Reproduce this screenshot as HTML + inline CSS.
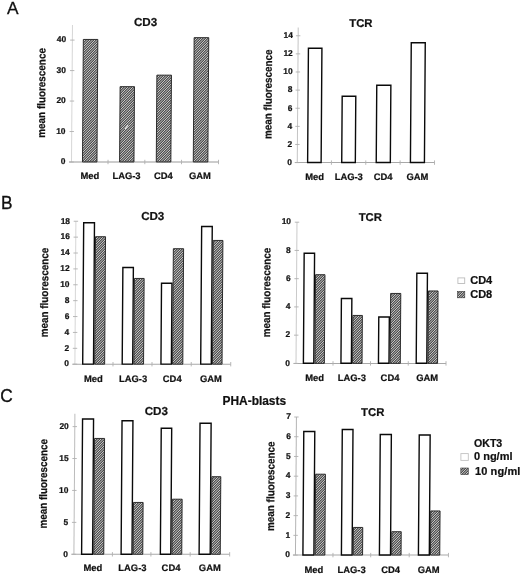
<!DOCTYPE html>
<html lang="en"><head><meta charset="utf-8"><title>Figure</title>
<style>
html,body{margin:0;padding:0;background:#fff;}
body{width:520px;height:575px;overflow:hidden;}
svg{display:block;}
text{font-family:"Liberation Sans", Arial, Helvetica, sans-serif;fill:#111;}
.tk,.xl,.yl,.tt,.lg{stroke:#111;stroke-width:0.22px;}
.b{font-weight:bold;}
.tk{font-size:8.4px;font-weight:bold;text-anchor:end;}
.xl{font-size:9.4px;font-weight:bold;text-anchor:middle;}
.yl{font-size:11px;font-weight:bold;text-anchor:middle;}
.tt{font-size:11.6px;font-weight:bold;text-anchor:middle;}
.lg{font-size:11px;font-weight:bold;}
.pn{font-size:17.3px;stroke:#111;stroke-width:0.3px;}
</style></head><body>
<svg width="520" height="575" viewBox="0 0 520 575">
<defs>
<pattern id="h" patternUnits="userSpaceOnUse" width="5" height="5">
<rect width="5" height="5" fill="#121212"/>
<path d="M-6.000 6L1.000 -1M-4.333 6L2.667 -1M-2.667 6L4.333 -1M-1.000 6L6.000 -1M0.667 6L7.667 -1M2.333 6L9.333 -1M4.000 6L11.000 -1" stroke="#ffffff" stroke-width="0.78"/>
</pattern>
</defs>
<rect width="520" height="575" fill="#fff"/>
<g>
<path d="M83.33 39.45L97.83 39.45L96.97 161.95L82.47 161.95Z" fill="url(#h)"/>
<path d="M120.1 86.65L134.5 86.65L133.97 161.95L119.57 161.95Z" fill="url(#h)"/>
<path d="M156.88 75.15L171.48 75.15L170.87 161.95L156.27 161.95Z" fill="url(#h)"/>
<path d="M194.14 37.65L208.74 37.65L207.87 161.95L193.27 161.95Z" fill="url(#h)"/>
</g>
<g transform="translate(0.65 0) skewX(-0.4)">
<path d="M72 25V162" fill="none" stroke="#d6d6d6" stroke-width="1"/>
<path d="M69.5 162H219.3" fill="none" stroke="#9a9a9a" stroke-width="1"/>
<path d="M69.8 162h4.4M69.8 131.53h4.4M69.8 101.05h4.4M69.8 70.57h4.4M69.8 40.1h4.4M108.5 159.8v4.4M145.3 159.8v4.4M182 159.8v4.4M219 159.8v4.4" fill="none" stroke="#b0b0b0" stroke-width="0.9"/>
<rect x="82.95" y="39.45" width="14.5" height="122.5" fill="none" stroke="#1c1c1c" stroke-width="0.9"/>
<rect x="120.05" y="86.65" width="14.4" height="75.3" fill="none" stroke="#1c1c1c" stroke-width="0.9"/>
<rect x="156.75" y="75.15" width="14.6" height="86.8" fill="none" stroke="#1c1c1c" stroke-width="0.9"/>
<rect x="193.75" y="37.65" width="14.6" height="124.3" fill="none" stroke="#1c1c1c" stroke-width="0.9"/>
<text class="tk" x="65.8" y="164.3">0</text>
<text class="tk" x="65.8" y="133.83">10</text>
<text class="tk" x="65.8" y="103.35">20</text>
<text class="tk" x="65.8" y="72.87">30</text>
<text class="tk" x="65.8" y="42.4">40</text>
<text class="xl" x="90.5" y="179.1">Med</text>
<text class="xl" x="127.1" y="179.1">LAG-3</text>
<text class="xl" x="164" y="179.1">CD4</text>
<text class="xl" x="200.6" y="179.1">GAM</text>
<text class="tt" x="145.13" y="26.5">CD3</text>
<text class="yl" transform="translate(45.2 92.9) rotate(-90) scale(0.9 1)">mean fluorescence</text>
</g>
<g>

</g>
<g transform="translate(0.66 0) skewX(-0.4)">
<path d="M297.75 27.5V162.6" fill="none" stroke="#c4c4c4" stroke-width="1"/>
<path d="M295.25 162.6H435" fill="none" stroke="#a8a8a8" stroke-width="1"/>
<path d="M295.55 162.6h4.4M295.55 144.48h4.4M295.55 126.36h4.4M295.55 108.24h4.4M295.55 90.11h4.4M295.55 71.99h4.4M295.55 53.87h4.4M295.55 35.75h4.4M331.9 160.4v4.4M366.25 160.4v4.4M400.6 160.4v4.4M435 160.4v4.4" fill="none" stroke="#b0b0b0" stroke-width="0.9"/>
<rect x="308.1" y="48.2" width="13.5" height="114.3" fill="#fff" stroke="#0a0a0a" stroke-width="1.4"/>
<rect x="342.2" y="96.2" width="13.6" height="66.3" fill="#fff" stroke="#0a0a0a" stroke-width="1.4"/>
<rect x="376.7" y="85.2" width="14.1" height="77.3" fill="#fff" stroke="#0a0a0a" stroke-width="1.4"/>
<rect x="410.9" y="42.7" width="14" height="119.8" fill="#fff" stroke="#0a0a0a" stroke-width="1.4"/>
<text class="tk" x="292.5" y="164.9">0</text>
<text class="tk" x="292.5" y="146.78">2</text>
<text class="tk" x="292.5" y="128.66">4</text>
<text class="tk" x="292.5" y="110.54">6</text>
<text class="tk" x="292.5" y="92.41">8</text>
<text class="tk" x="292.5" y="74.29">10</text>
<text class="tk" x="292.5" y="56.17">12</text>
<text class="tk" x="292.5" y="38.05">14</text>
<text class="xl" x="315.2" y="180.1">Med</text>
<text class="xl" x="349.35" y="180.1">LAG-3</text>
<text class="xl" x="383.8" y="180.1">CD4</text>
<text class="xl" x="418.1" y="180.1">GAM</text>
<text class="tt" style="font-size:11.3px" x="360.43" y="27.5">TCR</text>
<text class="yl" transform="translate(271.7 94.2) rotate(-90) scale(0.9 1)">mean fluorescence</text>
</g>
<g>
<path d="M95.54 236.7L105.54 236.7L104.65 364.15L94.65 364.15Z" fill="url(#h)"/>
<path d="M134.45 278.45L144.15 278.45L143.55 364.15L133.85 364.15Z" fill="url(#h)"/>
<path d="M173.36 248.7L183.61 248.7L182.8 364.15L172.55 364.15Z" fill="url(#h)"/>
<path d="M213.31 240.45L222.91 240.45L222.05 364.15L212.45 364.15Z" fill="url(#h)"/>
</g>
<g transform="translate(2.04 0) skewX(-0.4)">
<path d="M75.4 221.25V364.2" fill="none" stroke="#d6d6d6" stroke-width="1"/>
<path d="M72.9 364.2H231.25" fill="none" stroke="#a8a8a8" stroke-width="1"/>
<path d="M73.2 364.2h4.4M73.2 348.32h4.4M73.2 332.43h4.4M73.2 316.55h4.4M73.2 300.67h4.4M73.2 284.78h4.4M73.2 268.9h4.4M73.2 253.02h4.4M73.2 237.13h4.4M73.2 221.25h4.4M113.5 362v4.4M152.5 362v4.4M191.75 362v4.4M231.25 362v4.4" fill="none" stroke="#b0b0b0" stroke-width="0.9"/>
<rect x="83.2" y="222.7" width="10.8" height="141.4" fill="#fff" stroke="#0a0a0a" stroke-width="1.4"/>
<rect x="95.15" y="236.7" width="10" height="127.45" fill="none" stroke="#1c1c1c" stroke-width="0.9"/>
<rect x="122.7" y="267.45" width="10.5" height="96.65" fill="#fff" stroke="#0a0a0a" stroke-width="1.4"/>
<rect x="134.35" y="278.45" width="9.7" height="85.7" fill="none" stroke="#1c1c1c" stroke-width="0.9"/>
<rect x="161.45" y="283.2" width="10.45" height="80.9" fill="#fff" stroke="#0a0a0a" stroke-width="1.4"/>
<rect x="173.05" y="248.7" width="10.25" height="115.45" fill="none" stroke="#1c1c1c" stroke-width="0.9"/>
<rect x="201.2" y="226.45" width="10.6" height="137.65" fill="#fff" stroke="#0a0a0a" stroke-width="1.4"/>
<rect x="212.95" y="240.45" width="9.6" height="123.7" fill="none" stroke="#1c1c1c" stroke-width="0.9"/>
<text class="tk" x="69.5" y="366.5">0</text>
<text class="tk" x="69.5" y="350.62">2</text>
<text class="tk" x="69.5" y="334.73">4</text>
<text class="tk" x="69.5" y="318.85">6</text>
<text class="tk" x="69.5" y="302.97">8</text>
<text class="tk" x="69.5" y="287.08">10</text>
<text class="tk" x="69.5" y="271.2">12</text>
<text class="tk" x="69.5" y="255.32">14</text>
<text class="tk" x="69.5" y="239.43">16</text>
<text class="tk" x="69.5" y="223.55">18</text>
<text class="xl" x="94.02" y="381.6">Med</text>
<text class="xl" x="133.72" y="381.6">LAG-3</text>
<text class="xl" x="172.87" y="381.6">CD4</text>
<text class="xl" x="211.52" y="381.6">GAM</text>
<text class="tt" x="152.24" y="220">CD3</text>
<text class="yl" transform="translate(48.1 292.5) rotate(-90) scale(0.9 1)">mean fluorescence</text>
</g>
<g>
<path d="M315.58 274.7L324.98 274.7L324.36 363.35L314.96 363.35Z" fill="url(#h)"/>
<path d="M352.89 315.45L362.39 315.45L362.06 363.35L352.56 363.35Z" fill="url(#h)"/>
<path d="M390.64 293.45L400.79 293.45L400.31 363.35L390.16 363.35Z" fill="url(#h)"/>
<path d="M428.46 290.95L438.06 290.95L437.56 363.35L427.96 363.35Z" fill="url(#h)"/>
</g>
<g transform="translate(2.04 0) skewX(-0.4)">
<path d="M296.5 222V363.4" fill="none" stroke="#cacaca" stroke-width="1"/>
<path d="M294 363.4H446.6" fill="none" stroke="#a8a8a8" stroke-width="1"/>
<path d="M294.3 363.4h4.4M294.3 335.16h4.4M294.3 306.92h4.4M294.3 278.68h4.4M294.3 250.44h4.4M294.3 222.2h4.4M333.5 361.2v4.4M371 361.2v4.4M408.75 361.2v4.4M446.5 361.2v4.4" fill="none" stroke="#b0b0b0" stroke-width="0.9"/>
<rect x="303.9" y="253.2" width="10.4" height="110.1" fill="#fff" stroke="#0a0a0a" stroke-width="1.4"/>
<rect x="315.45" y="274.7" width="9.4" height="88.65" fill="none" stroke="#1c1c1c" stroke-width="0.9"/>
<rect x="341.45" y="298.45" width="10.45" height="64.85" fill="#fff" stroke="#0a0a0a" stroke-width="1.4"/>
<rect x="353.05" y="315.45" width="9.5" height="47.9" fill="none" stroke="#1c1c1c" stroke-width="0.9"/>
<rect x="378.95" y="316.95" width="10.55" height="46.35" fill="#fff" stroke="#0a0a0a" stroke-width="1.4"/>
<rect x="390.65" y="293.45" width="10.15" height="69.9" fill="none" stroke="#1c1c1c" stroke-width="0.9"/>
<rect x="416.7" y="273.2" width="10.6" height="90.1" fill="#fff" stroke="#0a0a0a" stroke-width="1.4"/>
<rect x="428.45" y="290.95" width="9.6" height="72.4" fill="none" stroke="#1c1c1c" stroke-width="0.9"/>
<text class="tk" x="290.5" y="365.7">0</text>
<text class="tk" x="290.5" y="337.46">2</text>
<text class="tk" x="290.5" y="309.22">4</text>
<text class="tk" x="290.5" y="280.98">6</text>
<text class="tk" x="290.5" y="252.74">8</text>
<text class="tk" x="290.5" y="224.5">10</text>
<text class="xl" x="315.22" y="380.85">Med</text>
<text class="xl" x="352.52" y="380.85">LAG-3</text>
<text class="xl" x="390.62" y="380.85">CD4</text>
<text class="xl" x="427.87" y="380.85">GAM</text>
<text class="tt" style="font-size:11.3px" x="369.75" y="221.25">TCR</text>
<text class="yl" transform="translate(270.2 292.5) rotate(-90) scale(0.9 1)">mean fluorescence</text>
</g>
<g>
<path d="M94.57 438.45L104.57 438.45L103.76 554.25L93.76 554.25Z" fill="url(#h)"/>
<path d="M133.52 502.45L143.12 502.45L142.76 554.25L133.16 554.25Z" fill="url(#h)"/>
<path d="M172.34 499.2L182.14 499.2L181.76 554.25L171.96 554.25Z" fill="url(#h)"/>
<path d="M211.9 476.7L220.8 476.7L220.26 554.25L211.36 554.25Z" fill="url(#h)"/>
</g>
<g transform="translate(2.78 0) skewX(-0.4)">
<path d="M75 413.75V554.3" fill="none" stroke="#bcbcbc" stroke-width="1"/>
<path d="M72.5 554.3H230.75" fill="none" stroke="#a8a8a8" stroke-width="1"/>
<path d="M72.8 554.3h4.4M72.8 522.38h4.4M72.8 490.45h4.4M72.8 458.52h4.4M72.8 426.6h4.4M113.5 552.1v4.4M152 552.1v4.4M191.25 552.1v4.4M230.75 552.1v4.4" fill="none" stroke="#b0b0b0" stroke-width="0.9"/>
<rect x="82.7" y="418.95" width="11" height="135.25" fill="#fff" stroke="#0a0a0a" stroke-width="1.4"/>
<rect x="94.85" y="438.45" width="10" height="115.8" fill="none" stroke="#1c1c1c" stroke-width="0.9"/>
<rect x="122.2" y="420.7" width="10.9" height="133.5" fill="#fff" stroke="#0a0a0a" stroke-width="1.4"/>
<rect x="134.25" y="502.45" width="9.6" height="51.8" fill="none" stroke="#1c1c1c" stroke-width="0.9"/>
<rect x="161.45" y="428.2" width="10.45" height="126" fill="#fff" stroke="#0a0a0a" stroke-width="1.4"/>
<rect x="173.05" y="499.2" width="9.8" height="55.05" fill="none" stroke="#1c1c1c" stroke-width="0.9"/>
<rect x="200.2" y="423.2" width="11.1" height="131" fill="#fff" stroke="#0a0a0a" stroke-width="1.4"/>
<rect x="212.45" y="476.7" width="8.9" height="77.55" fill="none" stroke="#1c1c1c" stroke-width="0.9"/>
<text class="tk" x="69" y="556.6">0</text>
<text class="tk" x="69" y="524.67">5</text>
<text class="tk" x="69" y="492.75">10</text>
<text class="tk" x="69" y="460.82">15</text>
<text class="tk" x="69" y="428.9">20</text>
<text class="xl" x="94.01" y="571.35">Med</text>
<text class="xl" x="133.61" y="571.35">LAG-3</text>
<text class="xl" x="172.21" y="571.35">CD4</text>
<text class="xl" x="211.01" y="571.35">GAM</text>
<text class="tt" x="156.42" y="415.5">CD3</text>
<text class="yl" transform="translate(47.6 483.8) rotate(-90) scale(0.9 1)">mean fluorescence</text>
</g>
<g>
<path d="M315.63 474.2L325.43 474.2L324.87 555.05L315.07 555.05Z" fill="url(#h)"/>
<path d="M353.46 527.45L362.76 527.45L362.57 555.05L353.27 555.05Z" fill="url(#h)"/>
<path d="M391.83 531.7L401.23 531.7L401.07 555.05L391.67 555.05Z" fill="url(#h)"/>
<path d="M430.78 510.95L440.08 510.95L439.77 555.05L430.47 555.05Z" fill="url(#h)"/>
</g>
<g transform="translate(3.59 0) skewX(-0.4)">
<path d="M295.75 417V555.1" fill="none" stroke="#b4b4b4" stroke-width="1"/>
<path d="M293.25 555.1H448.75" fill="none" stroke="#a8a8a8" stroke-width="1"/>
<path d="M293.55 555.1h4.4M293.55 535.37h4.4M293.55 515.64h4.4M293.55 495.91h4.4M293.55 476.19h4.4M293.55 456.46h4.4M293.55 436.73h4.4M293.55 417h4.4M333.25 552.9v4.4M371 552.9v4.4M409.5 552.9v4.4M448.75 552.9v4.4" fill="none" stroke="#b0b0b0" stroke-width="0.9"/>
<rect x="303.2" y="431.45" width="11" height="123.55" fill="#fff" stroke="#0a0a0a" stroke-width="1.4"/>
<rect x="315.35" y="474.2" width="9.8" height="80.85" fill="none" stroke="#1c1c1c" stroke-width="0.9"/>
<rect x="341.7" y="429.45" width="10.7" height="125.55" fill="#fff" stroke="#0a0a0a" stroke-width="1.4"/>
<rect x="353.55" y="527.45" width="9.3" height="27.6" fill="none" stroke="#1c1c1c" stroke-width="0.9"/>
<rect x="379.7" y="434.45" width="11.1" height="120.55" fill="#fff" stroke="#0a0a0a" stroke-width="1.4"/>
<rect x="391.95" y="531.7" width="9.4" height="23.35" fill="none" stroke="#1c1c1c" stroke-width="0.9"/>
<rect x="418.7" y="434.95" width="10.9" height="120.05" fill="#fff" stroke="#0a0a0a" stroke-width="1.4"/>
<rect x="430.75" y="510.95" width="9.3" height="44.1" fill="none" stroke="#1c1c1c" stroke-width="0.9"/>
<text class="tk" x="290.3" y="557.4">0</text>
<text class="tk" x="290.3" y="537.67">1</text>
<text class="tk" x="290.3" y="517.94">2</text>
<text class="tk" x="290.3" y="498.21">3</text>
<text class="tk" x="290.3" y="478.49">4</text>
<text class="tk" x="290.3" y="458.76">5</text>
<text class="tk" x="290.3" y="439.03">6</text>
<text class="tk" x="290.3" y="419.3">7</text>
<text class="xl" x="314.21" y="572.6">Med</text>
<text class="xl" x="352.01" y="572.6">LAG-3</text>
<text class="xl" x="391.01" y="572.6">CD4</text>
<text class="xl" x="429.11" y="572.6">GAM</text>
<text class="tt" style="font-size:11.3px" x="372.01" y="415.75">TCR</text>
<text class="yl" transform="translate(274.1 486.2) rotate(-90) scale(0.9 1)">mean fluorescence</text>
</g>
<path d="M125.4 128.5L127.7 125.5" stroke="#f2f2f2" stroke-width="1.1" stroke-linecap="round" fill="none"/>
<text class="pn" x="6.9" y="14.2">A</text>
<text class="pn" transform="translate(0.9 209.4) scale(1 1.06)">B</text>
<text class="pn" transform="translate(0.3 401.8) scale(1 1.1)">C</text>
<text class="tt" style="text-anchor:start;font-size:11.9px" x="222.6" y="405">PHA-blasts</text>
<rect x="457.9" y="277.9" width="6.8" height="5.6" fill="#fff" stroke="#bcbcbc" stroke-width="0.9"/>
<rect x="457.5" y="291.4" width="7.3" height="6.4" fill="url(#h)" stroke="#3a3a3a" stroke-width="0.6"/>
<text class="lg" x="470.2" y="283.8">CD4</text>
<text class="lg" x="470.2" y="297.6">CD8</text>
<rect x="460.9" y="453.6" width="7.4" height="6.8" fill="#fff" stroke="#c2c2c2" stroke-width="0.9"/>
<rect x="460.8" y="468" width="7.5" height="6.6" fill="url(#h)" stroke="#3a3a3a" stroke-width="0.6"/>
<text class="lg" style="font-size:10.6px" x="474" y="446.6">OKT3</text>
<text class="lg" x="474" y="460.1">0 ng/ml</text>
<text class="lg" style="letter-spacing:0.1px" x="475" y="474.6">10 ng/ml</text>
</svg>
</body></html>
